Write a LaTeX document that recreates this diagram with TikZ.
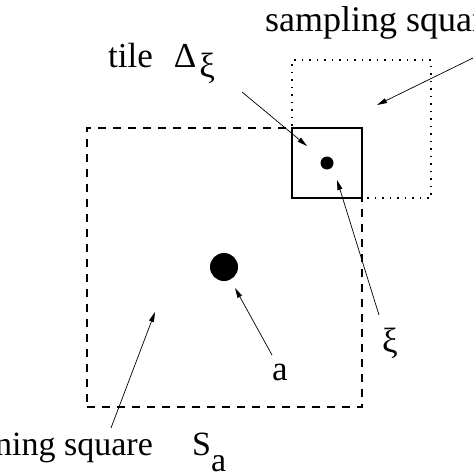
\documentclass[tikz,border=0pt]{standalone}
\usepackage{fontspec}
\setmainfont{Liberation Serif}
\usepackage{tikz}
\usetikzlibrary{arrows.meta}

\begin{document}
\begin{tikzpicture}[x=1pt,y=-1pt,font=\fontsize{35}{40}\selectfont,
  sq/.style={draw,inner sep=0pt,outer sep=0pt},
  dot/.style={circle,fill,inner sep=0pt},
  lbl/.style={inner sep=0pt},
  arr/.style={-{Triangle[length=10pt,width=5pt]},line width=0.7pt}]
\useasboundingbox (0,0) rectangle (474,474);
% quadrati
\node[sq,line width=1.3pt,dash pattern=on 8pt off 7pt,
      minimum width=275pt,minimum height=279pt] (train) at (224.5,267.5) {};
\node[sq,line width=1.5pt,dash pattern=on 1.5pt off 6pt,
      minimum width=139pt,minimum height=138pt] (samp) at (361.5,129) {};
\node[sq,line width=2.2pt,minimum size=70pt] (tile) at (327,163) {};
\node[dot,minimum size=13pt] (xi) at (327,163) {};
\node[dot,minimum size=28pt] (a) at (224,267) {};
% etichette
\node[lbl,anchor=base west,font=\fontsize{36}{40}\selectfont] (samplbl) at (265,31) {sampling square};
\node[lbl,anchor=base west] (tilelbl) at (108,67)
  {tile\hspace{21pt}Δ\hspace{3pt}\raisebox{-10pt}{ξ}};
\node[lbl] (xilbl) at (390,343) {ξ};
\node[lbl,anchor=base] (albl) at (280,380) {a};
\node[lbl,anchor=base west,font=\fontsize{34}{40}\selectfont] (trainlbl) at (-5,455) {ning square};
\node[lbl,anchor=base west,font=\fontsize{34}{40}\selectfont] (salbl) at (192,455) {S\raisebox{-16pt}{a}};
% frecce
\coordinate (s0) at (473,58);  \coordinate (s1) at (377,105);
\coordinate (t0) at (242,92);  \coordinate (t1) at (307,146);
\coordinate (x0) at (379,315); \coordinate (x1) at (337,180);
\coordinate (a0) at (272,355); \coordinate (a1) at (235,288);
\coordinate (r0) at (111,428); \coordinate (r1) at (155,312);
\draw[arr] (s0)--(s1); \draw[arr] (t0)--(t1); \draw[arr] (x0)--(x1);
\draw[arr] (a0)--(a1); \draw[arr] (r0)--(r1);
\end{tikzpicture}
\end{document}
